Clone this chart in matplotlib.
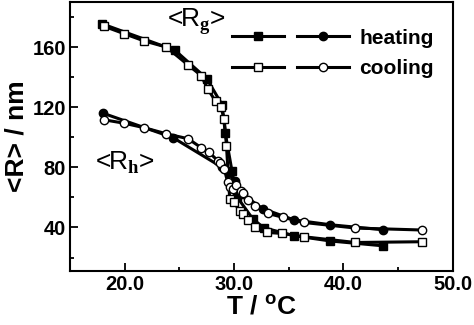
import numpy as np
import matplotlib
matplotlib.use("Agg")
import matplotlib.pyplot as plt
from matplotlib.legend_handler import HandlerTuple

# <Rg> heating / cooling (squares)
rg_heat_T = [17.9, 24.6, 27.5, 28.9, 29.2, 29.8, 30.3, 31.7, 32.7, 35.5, 38.8, 43.6]
rg_heat_R = [175.5, 157.8, 139.0, 121.6, 102.5, 77.8, 60.0, 45.8, 39.8, 34.5, 31.0, 27.8]
rg_cool_T = [18.1, 19.9, 21.8, 23.8, 25.8, 27.0, 27.6, 28.3, 28.8, 29.1, 29.3, 29.6,
             30.0, 30.5, 30.8, 31.3, 31.9, 33.0, 34.4, 36.4, 41.1, 47.2]
rg_cool_R = [173.8, 169.0, 164.0, 160.0, 148.0, 141.0, 132.0, 124.0, 120.0, 112.0, 94.5, 59.0,
             56.7, 51.0, 49.0, 45.0, 40.5, 36.7, 36.0, 33.8, 30.0, 30.5]

# <Rh> heating / cooling (circles)
rh_heat_T = [18.0, 24.4, 28.9, 30.1, 30.8, 32.6, 35.5, 38.8, 43.6]
rh_heat_R = [116.0, 99.8, 80.0, 71.0, 62.0, 52.5, 45.0, 41.8, 38.5]
rh_cool_T = [18.1, 19.9, 21.8, 23.8, 25.8, 27.0, 27.7, 28.5, 28.7, 29.1, 29.4, 29.6,
             29.9, 30.2, 30.6, 30.8, 31.3, 31.9, 33.1, 34.5, 36.4, 41.1, 47.2]
rh_cool_R = [111.6, 109.4, 106.3, 102.3, 99.0, 93.0, 90.0, 84.5, 82.7, 79.0, 70.5, 66.7,
             65.6, 68.0, 64.5, 62.7, 58.0, 54.5, 49.3, 46.7, 43.3, 39.6, 38.3]

plt.rcParams['font.family'] = ['Liberation Sans', 'DejaVu Sans']
plt.rcParams['font.weight'] = 'bold'
plt.rcParams['mathtext.fontset'] = 'custom'
plt.rcParams['mathtext.rm'] = 'Liberation Serif:bold'

fig = plt.figure(figsize=(4.74, 3.25), dpi=100)
ax = fig.add_axes([0.148, 0.166, 0.807, 0.828])

kw = dict(color='black', lw=2.2, ms=6.0, mec='black', mew=1.0)
h1, = ax.plot(rg_heat_T, rg_heat_R, marker='s', mfc='black', **kw)
c1, = ax.plot(rg_cool_T, rg_cool_R, marker='s', mfc='white', **kw)
h2, = ax.plot(rh_heat_T, rh_heat_R, marker='o', mfc='black', **kw)
c2, = ax.plot(rh_cool_T, rh_cool_R, marker='o', mfc='white', **kw)

ax.set_xlim(15, 50)
ax.set_ylim(11, 190)
ax.set_xticks([20, 30, 40, 50])
ax.set_xticklabels(['20.0', '30.0', '40.0', '50.0'])
ax.set_xticks([25, 35, 45], minor=True)
ax.set_yticks([40, 80, 120, 160])
ax.set_yticks([20, 60, 100, 140, 180], minor=True)
ax.tick_params(which='both', direction='in', width=1.3, labelsize=14.5, pad=3)
ax.tick_params(which='major', length=6)
ax.tick_params(which='minor', length=3)
for s in ax.spines.values():
    s.set_linewidth(1.5)

ax.set_xlabel('T / $^\\mathregular{o}$C', fontsize=19, fontweight='bold', labelpad=0)
ax.set_ylabel('<R> / nm', fontsize=19, fontweight='bold', labelpad=3)

ax.text(26.5, 177, '<R$_\\mathrm{g}$>', fontsize=19, fontweight='normal',
        ha='center', va='center')
ax.text(20.0, 83, '<R$_\\mathrm{h}$>', fontsize=19, fontweight='normal',
        ha='center', va='center')

leg = ax.legend([(h1, h2), (c1, c2)], ['heating', 'cooling'],
                handler_map={tuple: HandlerTuple(ndivide=None, pad=0.6)},
                loc='upper right', bbox_to_anchor=(1.0, 0.97), frameon=False,
                prop={'size': 15, 'weight': 'bold'}, handlelength=5.6,
                handletextpad=0.5, labelspacing=0.55)

fig.savefig('out.png', dpi=100)
